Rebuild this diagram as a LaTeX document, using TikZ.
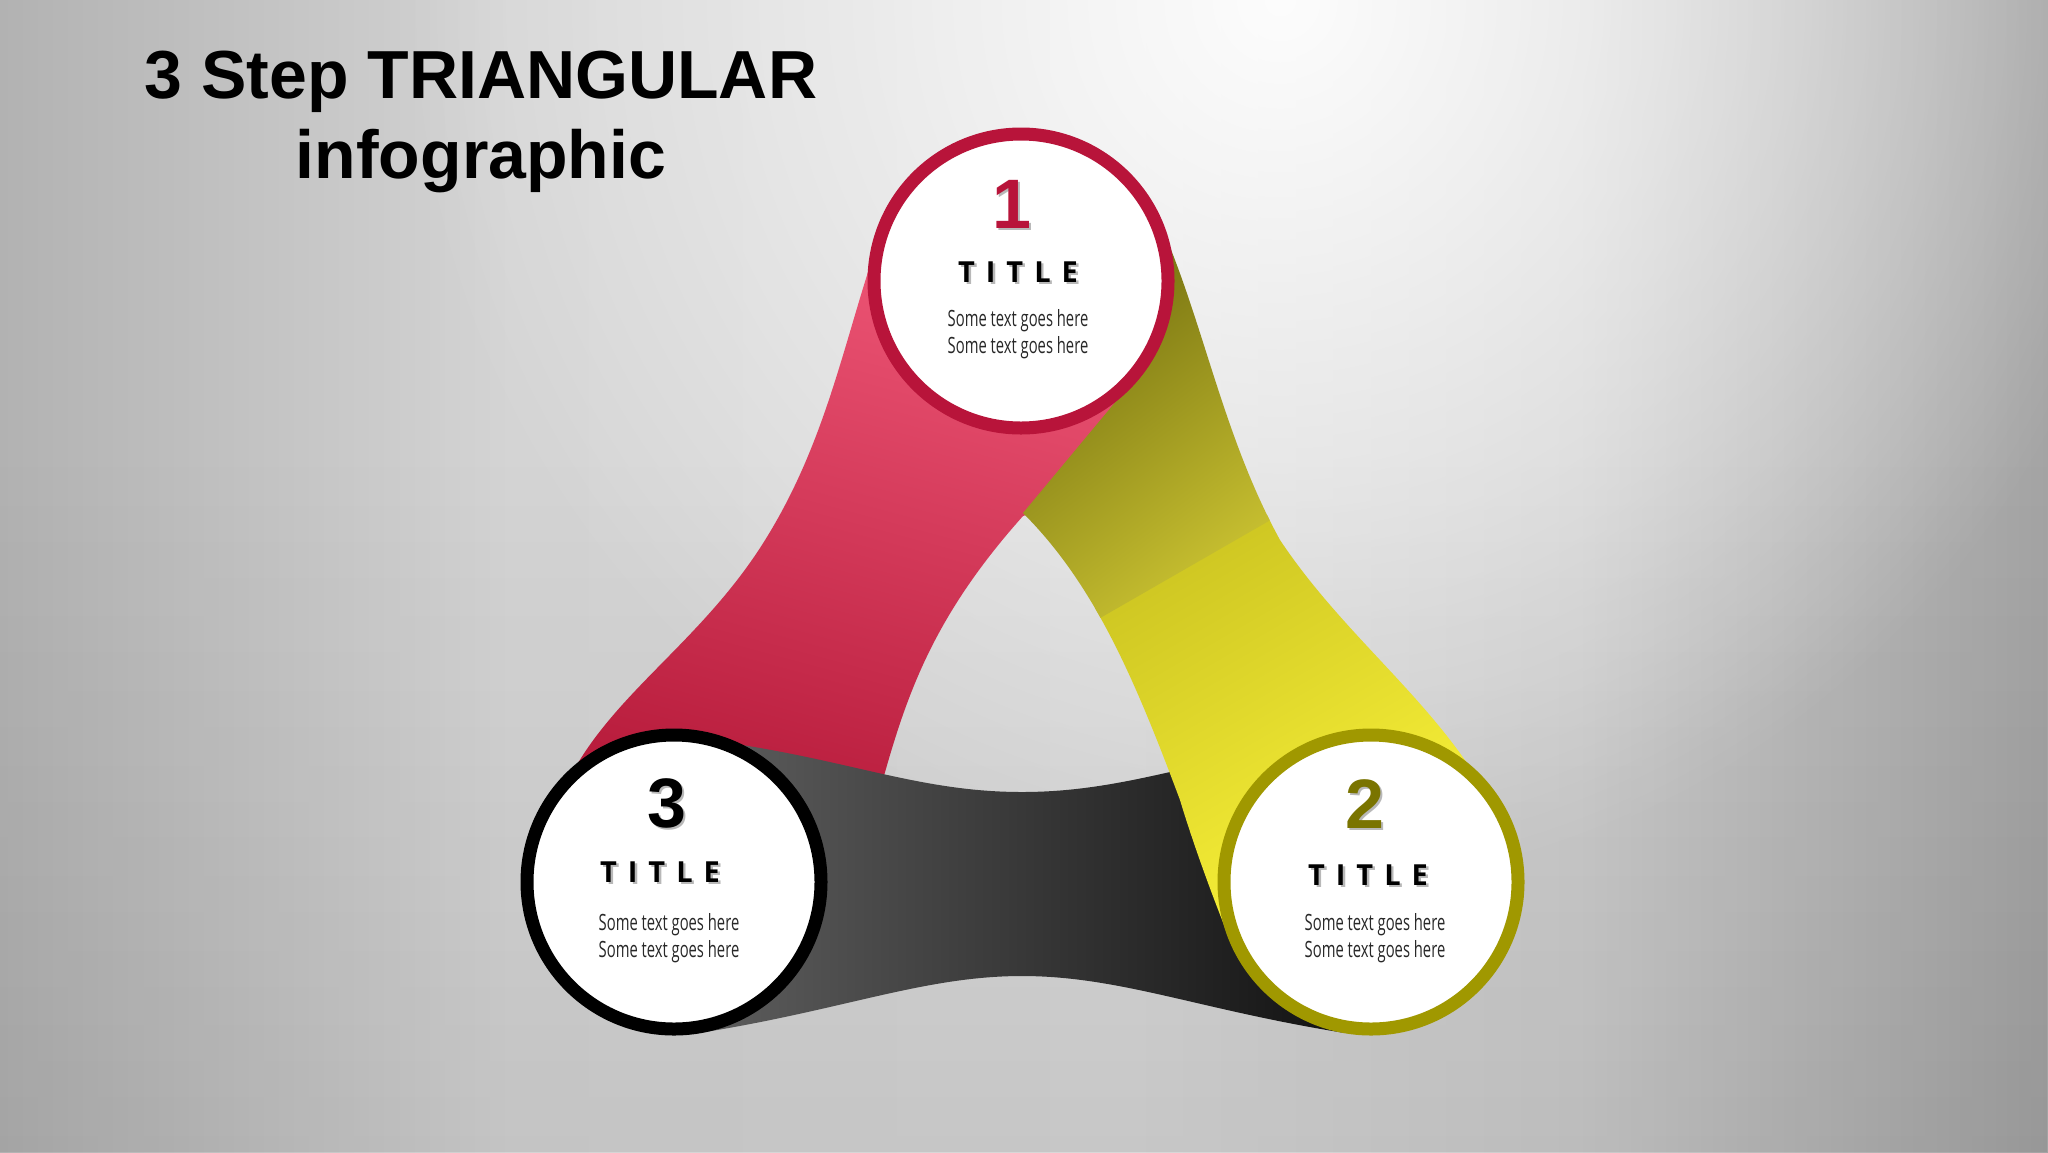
\documentclass[tikz,border=0pt]{standalone}
\usepackage{fontspec}
\usetikzlibrary{fadings}
\setmainfont{Liberation Sans}
\newfontfamily\headfont{Liberation Sans}
\newfontfamily\ttlfont{Open Sans}
\newfontfamily\bodyfont{Open Sans}[FakeStretch=0.66]
\definecolor{crim}{RGB}{184,20,58}
\definecolor{olivering}{RGB}{160,152,0}
\definecolor{olivenum}{RGB}{122,116,0}
\definecolor{pinktop}{RGB}{240,88,120}
\definecolor{pinkbot}{RGB}{184,28,60}
\definecolor{olvtop}{RGB}{112,108,14}
\definecolor{olvbot}{RGB}{204,196,50}
\definecolor{yeltop}{RGB}{206,198,34}
\definecolor{yelbot}{RGB}{252,244,58}
\definecolor{darkL}{RGB}{96,96,96}
\definecolor{darkR}{RGB}{18,18,18}
\definecolor{bodygray}{RGB}{40,40,40}
\definecolor{gA}{RGB}{178,178,178}
\definecolor{gB}{RGB}{212,212,212}
\definecolor{gC}{RGB}{216,216,216}
\definecolor{gD}{RGB}{204,204,204}
\definecolor{gE}{RGB}{164,164,164}
\pgfdeclarehorizontalshading{bgh}{100bp}{color(0bp)=(gA); color(25bp)=(gA); color(37.5bp)=(gB); color(52.5bp)=(gC); color(63.5bp)=(gD); color(75bp)=(gE); color(100bp)=(gE)}
\tikzfading[name=glowfade, inner color=transparent!0, outer color=transparent!100]
\tikzfading[name=darkfade, top color=transparent!100, bottom color=transparent!0]
\newcommand\ttlword{T\hspace{5.5pt}I\hspace{5.5pt}T\hspace{5.5pt}L\hspace{5.5pt}E}
\begin{document}
\begin{tikzpicture}[x=0.5pt,y=-0.5pt,
  ring/.style={circle, fill=white, line width=6.5pt, minimum size=147pt, inner sep=0pt},
  numtxt/.style={anchor=base, font=\headfont\bfseries\fontsize{35pt}{35pt}\selectfont},
  ttltxt/.style={anchor=base, font=\ttlfont\bfseries\fontsize{14.5pt}{14.5pt}\selectfont},
  bodytxt/.style={anchor=base, font=\bodyfont\fontsize{11.2pt}{13.5pt}\selectfont, text=bodygray},
  shadowtxt/.style={text=black, opacity=0.28, xshift=1.2pt, yshift=-1.2pt},
  headtxt/.style={anchor=base, font=\headfont\bfseries\fontsize{34pt}{40pt}\selectfont},
  pinkband/.style={top color=pinktop, bottom color=pinkbot, shading angle=-15},
  olvband/.style={top color=olvtop, bottom color=olvbot, shading angle=37},
  yelband/.style={top color=yeltop, bottom color=yelbot, shading angle=30},
  darkband/.style={left color=darkL, right color=darkR},
]
\useasboundingbox (0,0) rectangle (2048,1152);
% background
\begin{scope}
  \clip (0,0) rectangle (2048,1152);
  \shade[shading=bgh] (0,0) rectangle (2048,1152);
  \fill[black, opacity=0.075, path fading=darkfade] (0,450) rectangle (2048,1152);
  \fill[white, opacity=0.95, path fading=glowfade] (1280,0) ellipse [x radius=880, y radius=900];
\end{scope}

% title
\node[headtxt] (h1) at (481,98) {3 Step TRIANGULAR};
\node[headtxt] (h2) at (481,178) {infographic};

% pink band (1 -> 3)
\shade[pinkband] (1000,300) -- (885,222)
  .. controls (845,330) and (830,440) .. (760,548)
  .. controls (700,640) and (620,690) .. (575,768)
  -- (600,820) -- (760,800) -- (880,790)
  .. controls (905,700) and (930,620) .. (1023,516)
  -- (1035,512) -- (1160,358) -- cycle;

% dark band (3 -> 2)
\shade[darkband] (700,790) -- (722,742)
  .. controls (850,760) and (920,792) .. (1022,792)
  .. controls (1124,792) and (1194,760) .. (1322,742)
  -- (1340,850) -- (1345,1033)
  .. controls (1200,1010) and (1120,976) .. (1022,976)
  .. controls (924,976) and (844,1010) .. (699,1033)
  -- (680,900) -- cycle;

% band 1 -> 2 : yellow lower part
\begin{scope}
  \clip (1100,250) -- (1165,235)
    .. controls (1205,330) and (1225,440) .. (1280,540)
    .. controls (1340,630) and (1420,690) .. (1475,775)
    -- (1400,850) -- (1290,900) -- (1228,935)
    .. controls (1210,890) and (1192,840) .. (1180,800)
    .. controls (1135,680) and (1095,585) .. (1023,513)
    -- (1152,358) -- cycle;
  \shade[yelband] (1095,515) rectangle (1480,940);
  % olive upper part
  \clip (975,690) -- (1420,434) -- (1420,100) -- (975,100) -- cycle;
  \shade[olvband] (1015,230) rectangle (1285,625);
\end{scope}

% circle 1
\node[ring, draw=crim] (c1) at (1021,281) {};
\node[numtxt, shadowtxt] (n1s) at (1012,228) {1};
\node[numtxt, text=crim] (n1) at (1012,228) {1};
\node[ttltxt, shadowtxt] (t1s) at (1018,282) {\ttlword};
\node[ttltxt] (t1) at (1018,282) {\ttlword};
\node[bodytxt] (b1a) at (1018,326) {Some text goes here};
\node[bodytxt] (b1b) at (1018,353) {Some text goes here};

% circle 2
\node[ring, draw=olivering] (c2) at (1371,882) {};
\node[numtxt, shadowtxt] (n2s) at (1365,828) {2};
\node[numtxt, text=olivenum] (n2) at (1365,828) {2};
\node[ttltxt, shadowtxt] (t2s) at (1368,885) {\ttlword};
\node[ttltxt] (t2) at (1368,885) {\ttlword};
\node[bodytxt] (b2a) at (1375,930) {Some text goes here};
\node[bodytxt] (b2b) at (1375,957) {Some text goes here};

% circle 3
\node[ring, draw=black] (c3) at (674,882) {};
\node[numtxt, shadowtxt] (n3s) at (667,827) {3};
\node[numtxt, text=black] (n3) at (667,827) {3};
\node[ttltxt, shadowtxt] (t3s) at (660,882) {\ttlword};
\node[ttltxt] (t3) at (660,882) {\ttlword};
\node[bodytxt] (b3a) at (669,930) {Some text goes here};
\node[bodytxt] (b3b) at (669,957) {Some text goes here};
\end{tikzpicture}
\end{document}
